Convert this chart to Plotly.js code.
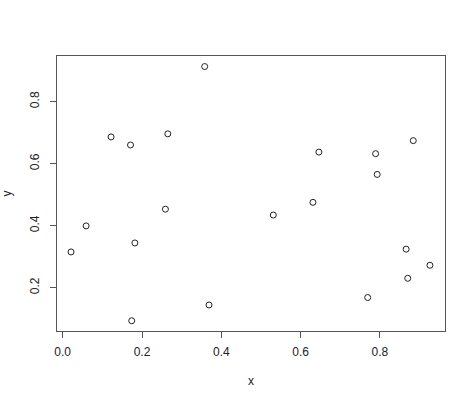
<!DOCTYPE html>
<html>
<head>
<meta charset="utf-8">
<script src="https://cdn.plot.ly/plotly-3.0.1.min.js"></script>
<style>html,body{margin:0;padding:0;background:#fff;}#chart{width:474px;height:402px;}</style>
</head>
<body>
<div id="chart"></div>
<script>
const xValues = [0.021, 0.059, 0.122, 0.171, 0.182, 0.174, 0.259, 0.265, 0.358, 0.369,
                 0.531, 0.631, 0.646, 0.769, 0.789, 0.793, 0.866, 0.870, 0.884, 0.926];
const yValues = [0.315, 0.399, 0.686, 0.660, 0.344, 0.093, 0.453, 0.696, 0.913, 0.144,
                 0.434, 0.475, 0.637, 0.168, 0.632, 0.565, 0.324, 0.230, 0.674, 0.272];
const xTicks = [0, 0.2, 0.4, 0.6, 0.8];
const xTickLabels = ["0.0", "0.2", "0.4", "0.6", "0.8"];
const yTicks = [0.2, 0.4, 0.6, 0.8];
const yTickLabels = ["0.2", "0.4", "0.6", "0.8"];

const font = {family: "Liberation Sans, Arial, sans-serif", size: 12, color: "#222"};

const trace = {
  x: xValues, y: yValues, type: "scatter", mode: "markers",
  marker: {symbol: "circle-open", size: 6, color: "#222", line: {width: 1, color: "#222"}},
  hoverinfo: "none"
};

const layout = {
  width: 474, height: 402,
  margin: {l: 57, r: 29, t: 56, b: 71, pad: 0},
  paper_bgcolor: "#fff", plot_bgcolor: "#fff",
  showlegend: false,
  font: font,
  xaxis: {
    range: [-0.0144, 0.964], autorange: false,
    tickvals: xTicks, ticktext: xTickLabels,
    ticks: "outside", ticklen: 6, tickwidth: 1, tickcolor: "#555",
    showline: true, mirror: true, linecolor: "#555", linewidth: 1,
    showgrid: false, zeroline: false, automargin: false,
    ticklabelstandoff: 4,
    tickfont: font,
    title: {text: "x", font: font, standoff: 18}
  },
  yaxis: {
    range: [0.060, 0.947], autorange: false,
    tickvals: yTicks, ticktext: yTickLabels,
    ticks: "outside", ticklen: 6, tickwidth: 1, tickcolor: "#555",
    tickangle: -90,
    showline: true, mirror: true, linecolor: "#555", linewidth: 1,
    showgrid: false, zeroline: false, automargin: false,
    ticklabelstandoff: 6,
    tickfont: font,
    title: {text: "y", font: font, standoff: 16}
  }
};

Plotly.newPlot("chart", [trace], layout, {displayModeBar: false, staticPlot: true});
</script>
</body>
</html>
